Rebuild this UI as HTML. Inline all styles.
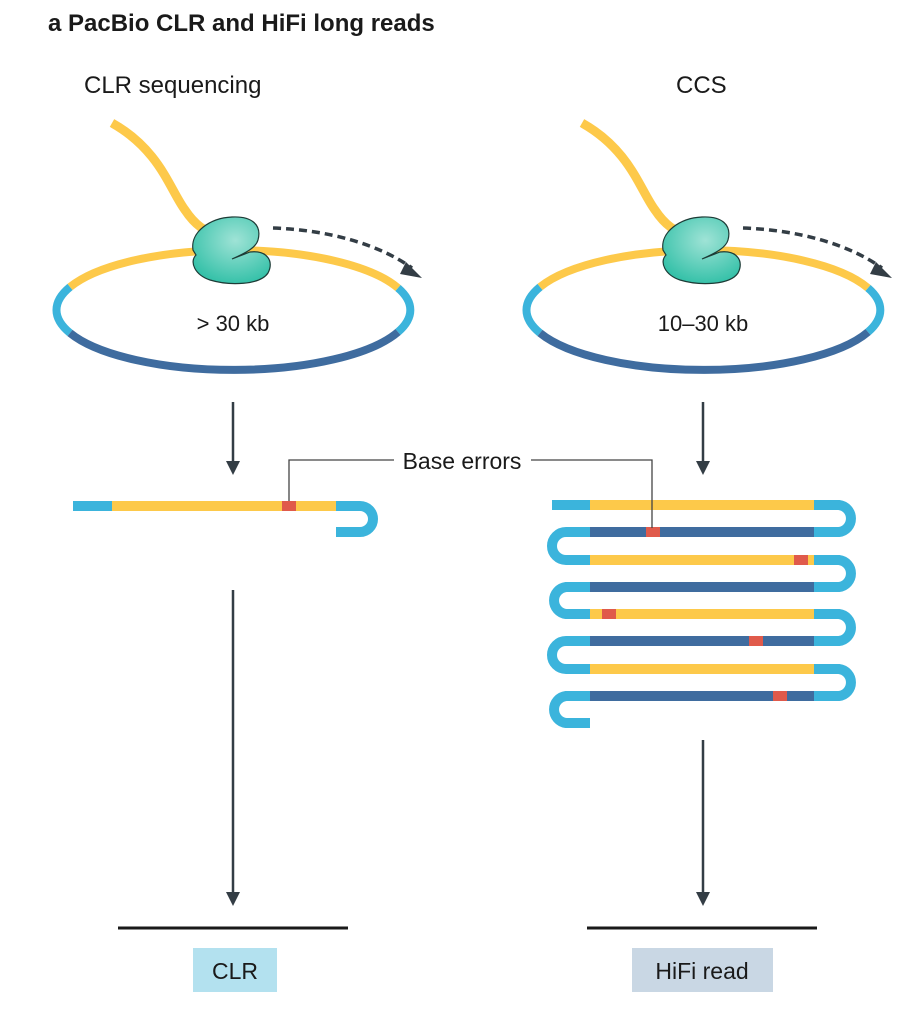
<!DOCTYPE html>
<html><head><meta charset="utf-8"><style>
html,body{margin:0;padding:0;background:#fff}
svg{display:block}
text{font-family:"Liberation Sans",sans-serif;fill:#1a1a1a}
</style></head><body>
<svg width="912" height="1022" viewBox="0 0 912 1022" xmlns="http://www.w3.org/2000/svg">
<defs>
<radialGradient id="pg" cx="0.55" cy="0.35" r="0.7">
<stop offset="0" stop-color="#9fe3d6"/><stop offset="1" stop-color="#2fbfa6"/></radialGradient>
<marker id="ah" markerWidth="14" markerHeight="14" refX="7" refY="7" orient="auto" markerUnits="userSpaceOnUse">
<path d="M0,0 L14,7 L0,14 Z" fill="#333d45"/></marker>
<g id="cell">
<path d="M112,123 C160,150 170,190 185,210 C195,225 205,232 220,236" fill="none" stroke="#FDC94A" stroke-width="9"/>
<path d="M70,287 A177 60 0 0 1 398,288" fill="none" stroke="#FDC94A" stroke-width="8"/>
<path d="M70,333 A177 60 0 0 1 70,287" fill="none" stroke="#3BB4DC" stroke-width="8"/>
<path d="M398,288 A177 60 0 0 1 398,332" fill="none" stroke="#3BB4DC" stroke-width="8"/>
<path d="M398,332 A177 60 0 0 1 70,333" fill="none" stroke="#3F6C9F" stroke-width="8"/>
<path d="M193,250 C190,232 210,218 232,217 C252,216 262,225 258,240 C256,247 248,252 232,259 L250,252 C268,250 274,262 268,273 C260,285 230,286 210,280 C195,275 189,262 196,255 Z" fill="url(#pg)" stroke="#1d3b36" stroke-width="1.2"/>
<path d="M273,228 C330,230 380,245 412,268" fill="none" stroke="#333d45" stroke-width="3.5" stroke-dasharray="8,5"/>
<path d="M406,262 L422,278 L400,274 Z" fill="#333d45"/>
</g>
</defs>
<text x="48" y="31" font-size="24" font-weight="bold">a  PacBio CLR and HiFi long reads</text>
<text x="84" y="93" font-size="24">CLR sequencing</text>
<text x="676" y="93" font-size="24">CCS</text>
<use href="#cell"/>
<use href="#cell" transform="translate(470,0)"/>
<text x="233" y="331" font-size="22" text-anchor="middle">&gt; 30 kb</text>
<text x="703" y="331" font-size="22" text-anchor="middle">10–30 kb</text>
<g stroke="#333d45" stroke-width="2.5">
<line x1="233" y1="402" x2="233" y2="468" marker-end="url(#ah)"/>
<line x1="703" y1="402" x2="703" y2="468" marker-end="url(#ah)"/>
<line x1="233" y1="590" x2="233" y2="899" marker-end="url(#ah)"/>
<line x1="703" y1="740" x2="703" y2="899" marker-end="url(#ah)"/>
</g>
<line x1="73" y1="506" x2="112" y2="506" stroke="#3BB4DC" stroke-width="10"/>
<line x1="112" y1="506" x2="336" y2="506" stroke="#FDC94A" stroke-width="10"/>
<rect x="282" y="501" width="14" height="10" fill="#E05A4B"/>
<path d="M336,506 H360 A13,13 0 0 1 360,532 H336" fill="none" stroke="#3BB4DC" stroke-width="10"/>
<g fill="none" stroke-width="10">
<line x1="552" y1="505" x2="590" y2="505" stroke="#3BB4DC"/>
<path d="M814,505 H839 A13.6,13.6 0 0 1 839,532 H814 M590,532 H566 A13.6,13.6 0 0 0 566,560 H590 M814,560 H839 A13.6,13.6 0 0 1 839,587 H814 M590,587 H566 A13.6,13.6 0 0 0 566,614 H590 M814,614 H839 A13.6,13.6 0 0 1 839,641 H814 M590,641 H566 A13.6,13.6 0 0 0 566,669 H590 M814,669 H839 A13.6,13.6 0 0 1 839,696 H814 M590,696 H566 A13.6,13.6 0 0 0 566,723 H590" stroke="#3BB4DC"/>
<line x1="590" y1="505" x2="814" y2="505" stroke="#FDC94A"/>
<line x1="590" y1="532" x2="814" y2="532" stroke="#3F6C9F"/>
<line x1="590" y1="560" x2="814" y2="560" stroke="#FDC94A"/>
<line x1="590" y1="587" x2="814" y2="587" stroke="#3F6C9F"/>
<line x1="590" y1="614" x2="814" y2="614" stroke="#FDC94A"/>
<line x1="590" y1="641" x2="814" y2="641" stroke="#3F6C9F"/>
<line x1="590" y1="669" x2="814" y2="669" stroke="#FDC94A"/>
<line x1="590" y1="696" x2="814" y2="696" stroke="#3F6C9F"/>
</g>
<g fill="#E05A4B">
<rect x="646" y="527" width="14" height="10"/>
<rect x="794" y="555" width="14" height="10"/>
<rect x="602" y="609" width="14" height="10"/>
<rect x="749" y="636" width="14" height="10"/>
<rect x="773" y="691" width="14" height="10"/>
</g>
<path d="M289,501 V460 H394 M531,460 H652 V528" fill="none" stroke="#444" stroke-width="1.3"/>
<text x="462" y="469" font-size="23" text-anchor="middle">Base errors</text>
<line x1="118" y1="928" x2="348" y2="928" stroke="#1a1a1a" stroke-width="3"/>
<line x1="587" y1="928" x2="817" y2="928" stroke="#1a1a1a" stroke-width="3"/>
<rect x="193" y="948" width="84" height="44" fill="#B3E1EF"/>
<rect x="632" y="948" width="141" height="44" fill="#C9D7E4"/>
<text x="235" y="979" font-size="23" text-anchor="middle">CLR</text>
<text x="702" y="979" font-size="23" text-anchor="middle">HiFi read</text>
</svg>
</body></html>
